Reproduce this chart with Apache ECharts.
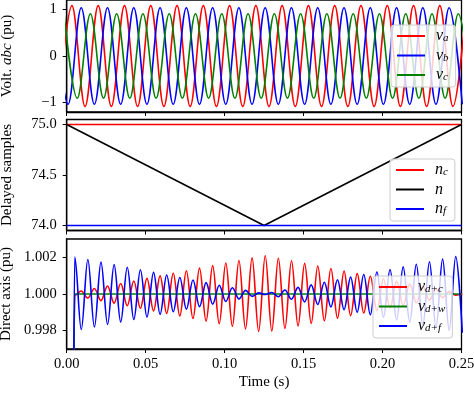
<!DOCTYPE html>
<html><head><meta charset="utf-8">
<script src="https://cdn.jsdelivr.net/npm/echarts@6/dist/echarts.min.js"></script>
<style>html,body{margin:0;padding:0;background:#fff}#c{width:474px;height:393px}</style>
</head><body><div id="c"></div>
<script>
// ---- tick labels ----
const xTicks = [0, 0.05, 0.10, 0.15, 0.20, 0.25];
const voltTicks = [-1, 0, 1];
const delayTicks = [74.0, 74.5, 75.0];
const dTicks = [0.998, 1.000, 1.002];

// ---- top panel: phase voltages (extrema) ----
const vaTime = [-0.00502,0.00330,0.01162,0.01994,0.02826,0.03658,0.04490,0.05322,0.06154,0.06986,0.07818,0.08650,0.09482,0.10314,0.11146,0.11978,0.12810,0.13642,0.14474,0.15306,0.16138,0.16970,0.17802,0.18634,0.19466,0.20298,0.21130,0.21962,0.22794,0.23626,0.24458,0.25290];
const vaVal = [-1.08,1.08,-1.08,1.08,-1.08,1.08,-1.08,1.08,-1.08,1.08,-1.08,1.08,-1.08,1.08,-1.08,1.08,-1.08,1.08,-1.08,1.08,-1.08,1.08,-1.08,1.08,-1.08,1.08,-1.08,1.08,-1.08,1.08,-1.08,1.08];
const vbTime = [-0.00744,0.00088,0.00920,0.01752,0.02584,0.03416,0.04248,0.05080,0.05912,0.06744,0.07576,0.08408,0.09240,0.10072,0.10904,0.11736,0.12568,0.13400,0.14232,0.15064,0.15896,0.16728,0.17560,0.18392,0.19224,0.20056,0.20888,0.21720,0.22552,0.23384,0.24216,0.25048];
const vbVal = [1.035,-1.035,1.035,-1.035,1.035,-1.035,1.035,-1.035,1.035,-1.035,1.035,-1.035,1.035,-1.035,1.035,-1.035,1.035,-1.035,1.035,-1.035,1.035,-1.035,1.035,-1.035,1.035,-1.035,1.035,-1.035,1.035,-1.035,1.035,-1.035];
const vcTime = [-0.00164,0.00668,0.01500,0.02332,0.03164,0.03996,0.04828,0.05660,0.06492,0.07324,0.08156,0.08988,0.09820,0.10652,0.11484,0.12316,0.13148,0.13980,0.14812,0.15644,0.16476,0.17308,0.18140,0.18972,0.19804,0.20636,0.21468,0.22300,0.23132,0.23964,0.24796,0.25628];
const vcVal = [0.905,-0.905,0.905,-0.905,0.905,-0.905,0.905,-0.905,0.905,-0.905,0.905,-0.905,0.905,-0.905,0.905,-0.905,0.905,-0.905,0.905,-0.905,0.905,-0.905,0.905,-0.905,0.905,-0.905,0.905,-0.905,0.905,-0.905,0.905,-0.905];

// ---- middle panel: delayed samples ----
const delayTime = [0, 0.125, 0.25];
const ncVal = [75, 75, 75];
const nVal = [75, 74, 75];
const nfVal = [74, 74, 74];

// ---- bottom panel: direct axis (extrema) ----
const dTime = [0.00405,0.00507,0.00923,0.01339,0.01755,0.02171,0.02587,0.03003,0.03419,0.03835,0.04251,0.04667,0.05083,0.05499,0.05915,0.06331,0.06747,0.07163,0.07579,0.07995,0.08411,0.08827,0.09243,0.09659,0.10075,0.10491,0.10907,0.11323,0.11739,0.12155,0.12571,0.12987,0.13403,0.13819,0.14235,0.14651,0.15067,0.15483,0.15899,0.16315,0.16731,0.17147,0.17563,0.17979,0.18395,0.18811,0.19227,0.19643,0.20059,0.20475,0.20891,0.21307,0.21723,0.22139,0.22555,0.22971,0.23387,0.23803,0.24219,0.24635,0.25051];
const vdcVal = [0.990,0.99992,1.00016,0.99978,1.00030,0.99964,1.00044,0.99950,1.00057,0.99936,1.00071,0.99922,1.00085,0.99908,1.00099,0.99894,1.00113,0.99880,1.00127,0.99866,1.00141,0.99852,1.00155,0.99838,1.00169,0.99824,1.00183,0.99810,1.00197,0.99796,1.00209,0.99798,1.00195,0.99812,1.00181,0.99826,1.00167,0.99840,1.00153,0.99854,1.00139,0.99868,1.00125,0.99882,1.00111,0.99896,1.00097,0.99910,1.00083,0.99924,1.00069,0.99938,1.00055,0.99952,1.00041,0.99966,1.00027,0.99980,1.00013,0.99994,1.00000];
const vdfVal = [0.990,1.00202,0.99806,1.00188,0.99820,1.00174,0.99834,1.00160,0.99847,1.00146,0.99861,1.00132,0.99875,1.00118,0.99889,1.00104,0.99903,1.00090,0.99917,1.00076,0.99931,1.00062,0.99945,1.00048,0.99959,1.00034,0.99973,1.00020,0.99987,1.00006,0.99997,1.00008,0.99985,1.00022,0.99971,1.00036,0.99957,1.00050,0.99943,1.00064,0.99929,1.00078,0.99915,1.00092,0.99901,1.00106,0.99887,1.00120,0.99873,1.00134,0.99859,1.00148,0.99845,1.00162,0.99831,1.00176,0.99817,1.00190,0.99803,1.00204,0.99789];
const vdwTime = [0.00405, 0.00507, 0.25];
const vdwVal = [0.990, 1.000, 1.000];

const zip = (t, v) => t.map((x, i) => [x, v[i]]);
const FONT = 'Liberation Serif';
const minus = s => s.replace('-', '\u2212');

const gridTop = [0, 119.5, 239];
const gridH = [112, 111, 110];
const grids = gridTop.map((t, i) => ({
  left: 66.7, right: 12.5, top: t, height: gridH[i], containLabel: false, outerBoundsMode: 'none',
  show: true, borderColor: '#000', borderWidth: 1.3, backgroundColor: '#fff'
}));

const xAxes = [0, 1, 2].map(i => ({
  type: 'value', gridIndex: i, min: 0, max: 0.25, interval: 0.05,
  axisLine: { show: true, onZero: false, lineStyle: { color: '#000', width: 1.3 } },
  axisTick: { show: true, length: 4, lineStyle: { color: '#000' }, customValues: xTicks },
  axisLabel: { show: i === 2, margin: 8, color: '#000', fontFamily: FONT, fontSize: 14.5,
    customValues: xTicks, formatter: v => v.toFixed(2) },
  splitLine: { show: false },
  name: i === 2 ? 'Time (s)' : '', nameLocation: 'middle', nameGap: 26,
  nameTextStyle: { color: '#000', fontFamily: FONT, fontSize: 15 }
}));

const yCommon = (gi, min, max, ticks, fmt, name, rich) => ({
  type: 'value', gridIndex: gi, min, max,
  axisLine: { show: true, onZero: false, lineStyle: { color: '#000', width: 1.3 } },
  axisTick: { show: true, length: 4, lineStyle: { color: '#000' }, customValues: ticks },
  axisLabel: { margin: 10, color: '#000', fontFamily: FONT, fontSize: 14.5, customValues: ticks, formatter: fmt },
  splitLine: { show: false },
  name, nameLocation: 'middle', nameGap: 52, nameRotate: 90,
  nameTextStyle: { color: '#000', fontFamily: FONT, fontSize: 15, rich }
});

const nameRich = {
  r: { fontFamily: FONT, fontSize: 15, color: '#000' },
  i: { fontFamily: FONT, fontSize: 15, fontStyle: 'italic', color: '#000' }
};

const yAxes = [
  yCommon(0, -1.2, 1.2, voltTicks, v => minus(String(v)), '{r|Volt. }{i|abc}{r| (pu)}', nameRich),
  yCommon(1, 73.95, 75.05, delayTicks, v => v.toFixed(1), 'Delayed samples', nameRich),
  yCommon(2, 0.997, 1.003, dTicks, v => v.toFixed(3), 'Direct axis (pu)', nameRich)
];

const labelMap = {
  va: '{v|v}{s|a}', vb: '{v|v}{s|b}', vc: '{v|v}{s|c}',
  nc: '{v|n}{s|c}', n: '{v|n}', nf: '{v|n}{s|f}',
  vdc: '{v|v}{s|d+c}', vdw: '{v|v}{s|d+w}', vdf: '{v|v}{s|d+f}'
};
const legRich = {
  v: { fontFamily: FONT, fontSize: 16, fontStyle: 'italic', color: '#000', lineHeight: 16, padding: [0, 0, 0, 6] },
  s: { fontFamily: FONT, fontSize: 11, fontStyle: 'italic', color: '#000', lineHeight: 16, verticalAlign: 'bottom' }
};
const mkLegend = (data, left, top) => ({
  data, left, top, orient: 'vertical', icon: 'rect', itemWidth: 28, itemHeight: 2, itemGap: 3.5,
  padding: [3, 7, 4, 6], backgroundColor: 'rgba(255,255,255,0.8)', borderColor: '#cccccc', borderWidth: 1,
  borderRadius: 3, formatter: n => labelMap[n], textStyle: { rich: legRich }, selectedMode: false
});

const wave = (name, gi, data, color, extra) => Object.assign({
  name, type: 'line', xAxisIndex: gi, yAxisIndex: gi, data, showSymbol: false, symbol: 'none',
  lineStyle: { color, width: 1.6 }, itemStyle: { color }, smooth: 0.363, smoothMonotone: 'x', clip: true
}, extra || {});

const option = {
  animation: false,
  grid: grids, xAxis: xAxes, yAxis: yAxes,
  legend: [
    mkLegend(['va', 'vb', 'vc'], 391, 25),
    mkLegend(['nc', 'n', 'nf'], 390, 159),
    mkLegend(['vdc', 'vdw', 'vdf'], 373, 276)
  ],
  series: [
    wave('va', 0, zip(vaTime, vaVal), '#ff0000'),
    wave('vb', 0, zip(vbTime, vbVal), '#0000ff'),
    wave('vc', 0, zip(vcTime, vcVal), '#008000'),
    wave('nc', 1, zip(delayTime, ncVal), '#ff0000', { smooth: false }),
    wave('n', 1, zip(delayTime, nVal), '#000000', { smooth: false }),
    wave('nf', 1, zip(delayTime, nfVal), '#0000ff', { smooth: false }),
    wave('vdc', 2, zip(dTime, vdcVal), '#ff0000'),
    wave('vdw', 2, zip(vdwTime, vdwVal), '#008000'),
    wave('vdf', 2, zip(dTime, vdfVal), '#0000ff')
  ]
};
const chart = echarts.init(document.getElementById('c'), null, { renderer: 'canvas' });
chart.setOption(option);
</script></body></html>
